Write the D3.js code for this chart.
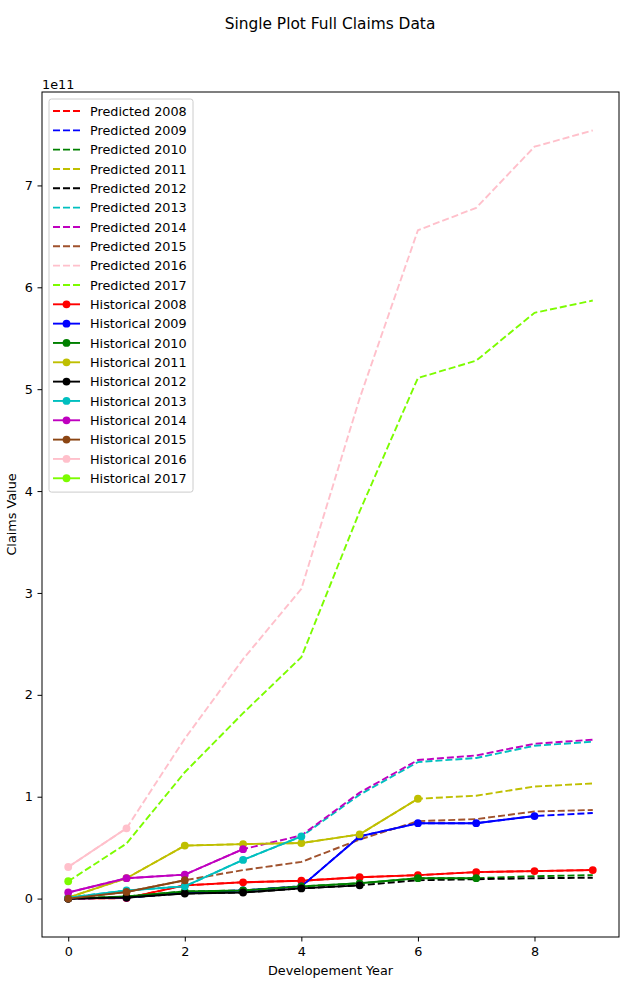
<!DOCTYPE html>
<html>
<head>
<meta charset="utf-8">
<script src="https://cdn.jsdelivr.net/npm/d3@7"></script>
<style>
  body { margin: 0; background: #fff; }
  text { font-family: "DejaVu Sans", sans-serif; fill: #000; }
</style>
</head>
<body>
<svg id="chart"></svg>
<script>
// Claims values, in units of 1e11 (the axis shows the "1e11" offset)
const devYears = [0, 1, 2, 3, 4, 5, 6, 7, 8, 9];
const years = [2008, 2009, 2010, 2011, 2012, 2013, 2014, 2015, 2016, 2017];
const yTicks = [0, 1, 2, 3, 4, 5, 6, 7];
const xTicks = [0, 2, 4, 6, 8];

// Predicted curves: full development 0..9
const pred2008 = [0.0, 0.005, 0.13, 0.16, 0.175, 0.21, 0.23, 0.26, 0.27, 0.28];
const pred2009 = [0.0, 0.01, 0.06, 0.08, 0.12, 0.61, 0.74, 0.74, 0.81, 0.84];
const pred2010 = [0.0, 0.02, 0.07, 0.08, 0.12, 0.15, 0.20, 0.20, 0.22, 0.23];
const pred2011 = [0.01, 0.20, 0.52, 0.535, 0.545, 0.63, 0.98, 1.01, 1.10, 1.13];
const pred2012 = [0.0, 0.01, 0.05, 0.06, 0.10, 0.13, 0.18, 0.19, 0.20, 0.205];
const pred2013 = [0.01, 0.08, 0.12, 0.38, 0.61, 1.02, 1.34, 1.38, 1.50, 1.54];
const pred2014 = [0.06, 0.20, 0.235, 0.485, 0.62, 1.04, 1.36, 1.405, 1.52, 1.56];
const pred2015 = [0.0, 0.065, 0.18, 0.28, 0.36, 0.58, 0.76, 0.78, 0.855, 0.87];
const pred2016 = [0.31, 0.69, 1.57, 2.35, 3.04, 4.91, 6.56, 6.78, 7.38, 7.54];
const pred2017 = [0.17, 0.54, 1.24, 1.82, 2.37, 3.80, 5.11, 5.28, 5.75, 5.87];

// Historical (observed) part of each year
const hist2008 = [0.0, 0.005, 0.13, 0.16, 0.175, 0.21, 0.23, 0.26, 0.27, 0.28];
const hist2009 = [0.0, 0.01, 0.06, 0.08, 0.12, 0.61, 0.74, 0.74, 0.81];
const hist2010 = [0.0, 0.02, 0.07, 0.08, 0.12, 0.15, 0.20, 0.20];
const hist2011 = [0.01, 0.20, 0.52, 0.535, 0.545, 0.63, 0.98];
const hist2012 = [0.0, 0.01, 0.05, 0.06, 0.10, 0.13];
const hist2013 = [0.01, 0.08, 0.12, 0.38, 0.61];
const hist2014 = [0.06, 0.20, 0.235, 0.485];
const hist2015 = [0.0, 0.065, 0.18];
const hist2016 = [0.31, 0.69];
const hist2017 = [0.17];

const predicted = [pred2008, pred2009, pred2010, pred2011, pred2012, pred2013, pred2014, pred2015, pred2016, pred2017];
const historical = [hist2008, hist2009, hist2010, hist2011, hist2012, hist2013, hist2014, hist2015, hist2016, hist2017];

const predColors = ["#ff0000", "#0000ff", "#008000", "#bfbf00", "#000000", "#00bfbf", "#bf00bf", "#a0522d", "#ffc0cb", "#7cfc00"];
const histColors = ["#ff0000", "#0000ff", "#008000", "#bfbf00", "#000000", "#00bfbf", "#bf00bf", "#8b4513", "#ffc0cb", "#7cfc00"];

// Layout
const W = 640, H = 992;
const plot = { left: 42, right: 619, top: 92, bottom: 937 };

const svg = d3.select("#chart")
    .attr("width", W)
    .attr("height", H);

svg.append("rect").attr("width", W).attr("height", H).attr("fill", "#fff");

// Scales with matplotlib-like 5% padding
const xMin = d3.min(devYears), xMax = d3.max(devYears);
const xPad = (xMax - xMin) * 0.05;
const x = d3.scaleLinear()
    .domain([xMin - xPad, xMax + xPad])
    .range([plot.left, plot.right]);

const allVals = predicted.flat().concat(historical.flat());
const yMin = d3.min(allVals), yMax = d3.max(allVals);
const yPad = (yMax - yMin) * 0.05;
const y = d3.scaleLinear()
    .domain([yMin - yPad, yMax + yPad])
    .range([plot.bottom, plot.top]);

// Title
svg.append("text")
    .attr("x", W / 2 + 10)
    .attr("y", 29)
    .attr("text-anchor", "middle")
    .style("font-size", "15.4px")
    .text("Single Plot Full Claims Data");

// Axes
const xAxis = svg.append("g")
    .attr("transform", `translate(0,${plot.bottom})`)
    .call(d3.axisBottom(x).tickValues(xTicks).tickFormat(d3.format("d")).tickSizeOuter(0).tickSize(4.5).tickPadding(5));

const yAxis = svg.append("g")
    .attr("transform", `translate(${plot.left},0)`)
    .call(d3.axisLeft(y).tickValues(yTicks).tickFormat(d3.format("d")).tickSizeOuter(0).tickSize(4.5).tickPadding(4.5));

[xAxis, yAxis].forEach(g => {
    g.select(".domain").remove();
    g.selectAll(".tick line").attr("stroke", "#000").attr("stroke-width", 1);
    g.selectAll(".tick text")
        .style("font-size", "12.8px")
        .style("font-family", "'DejaVu Sans', sans-serif")
        .attr("fill", "#000");
});

// Offset label
svg.append("text")
    .attr("x", plot.left)
    .attr("y", 89)
    .style("font-size", "12.8px")
    .text("1e11");

// Axis labels
svg.append("text")
    .attr("x", (plot.left + plot.right) / 2)
    .attr("y", 975)
    .attr("text-anchor", "middle")
    .style("font-size", "12.8px")
    .text("Developement Year");

svg.append("text")
    .attr("transform", `translate(16,${(plot.top + plot.bottom) / 2}) rotate(-90)`)
    .attr("text-anchor", "middle")
    .style("font-size", "12.8px")
    .text("Claims Value");

// Clip to plot area
svg.append("clipPath").attr("id", "clip")
  .append("rect")
    .attr("x", plot.left).attr("y", plot.top)
    .attr("width", plot.right - plot.left).attr("height", plot.bottom - plot.top);

const lines = svg.append("g").attr("clip-path", "url(#clip)");

const line = d3.line()
    .x((d, i) => x(devYears[i]))
    .y(d => y(d));

// Predicted (dashed)
predicted.forEach((vals, k) => {
    lines.append("path")
        .datum(vals)
        .attr("d", line)
        .attr("fill", "none")
        .attr("stroke", predColors[k])
        .attr("stroke-width", 1.9)
        .attr("stroke-dasharray", "7,3");
});

// Historical (solid + markers)
historical.forEach((vals, k) => {
    const g = lines.append("g");
    g.append("path")
        .datum(vals)
        .attr("d", line)
        .attr("fill", "none")
        .attr("stroke", histColors[k])
        .attr("stroke-width", 1.9);
    g.selectAll("circle")
        .data(vals)
        .enter()
        .append("circle")
        .attr("cx", (d, i) => x(devYears[i]))
        .attr("cy", d => y(d))
        .attr("r", 3.9)
        .attr("fill", histColors[k]);
});

// Spines
svg.append("rect")
    .attr("x", plot.left).attr("y", plot.top)
    .attr("width", plot.right - plot.left).attr("height", plot.bottom - plot.top)
    .attr("fill", "none")
    .attr("stroke", "#000")
    .attr("stroke-width", 1);

// Legend
const legendItems = years.map((yr, k) => ({ label: "Predicted " + yr, color: predColors[k], type: "pred" }))
    .concat(years.map((yr, k) => ({ label: "Historical " + yr, color: histColors[k], type: "hist" })));

const legend = svg.append("g");
const lgX = 49, lgY = 99, lgW = 144, rowH = 19.33;
legend.append("rect")
    .attr("x", lgX).attr("y", lgY)
    .attr("width", lgW).attr("height", rowH * legendItems.length + 6.5)
    .attr("rx", 2.5)
    .attr("fill", "#fff")
    .attr("fill-opacity", 0.8)
    .attr("stroke", "#cccccc")
    .attr("stroke-width", 1);

legendItems.forEach((item, i) => {
    const cy = 111 + i * rowH;
    legend.append("line")
        .attr("x1", 53).attr("x2", 80)
        .attr("y1", cy).attr("y2", cy)
        .attr("stroke", item.color)
        .attr("stroke-width", 1.9)
        .attr("stroke-dasharray", item.type === "pred" ? "7,3" : null);
    if (item.type === "hist") {
        legend.append("circle")
            .attr("cx", 66.5).attr("cy", cy).attr("r", 3.9)
            .attr("fill", item.color);
    }
    legend.append("text")
        .attr("x", 90).attr("y", cy + 4.6)
        .style("font-size", "12.8px")
        .text(item.label);
});
</script>
</body>
</html>
